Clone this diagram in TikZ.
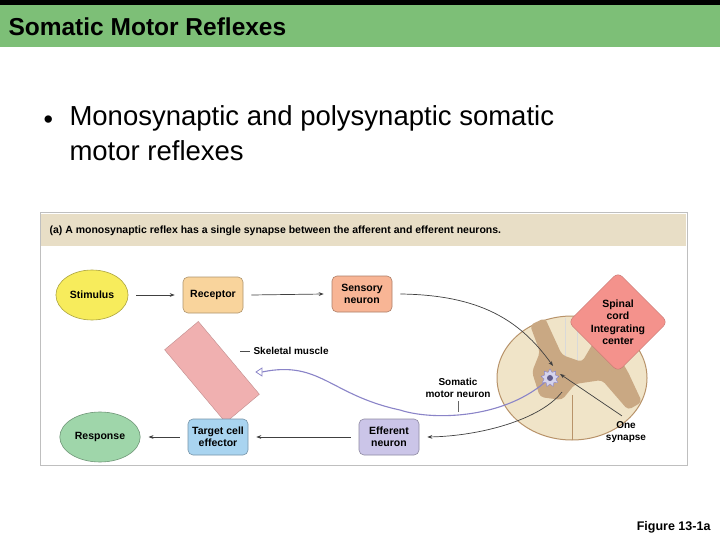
\documentclass[tikz,border=0pt]{standalone}
\usepackage{fontspec}
\setmainfont{Liberation Sans}
\usetikzlibrary{shapes.geometric,arrows.meta}
\definecolor{tgreen}{HTML}{7DBF77}
\definecolor{hdr}{HTML}{E8DEC6}
\definecolor{cord}{HTML}{F0E4C8}
\definecolor{cordedge}{HTML}{B8936A}
\definecolor{grey}{HTML}{C9A883}
\definecolor{cstim}{HTML}{F7EC5C}
\definecolor{crec}{HTML}{F9D49C}
\definecolor{csens}{HTML}{F8B595}
\definecolor{ceff}{HTML}{CBC5E8}
\definecolor{ctgt}{HTML}{A9D4F0}
\definecolor{cresp}{HTML}{9FD6AA}
\definecolor{cdia}{HTML}{F4928C}
\definecolor{cmus}{HTML}{F0B0B0}
\definecolor{cmot}{HTML}{8A84C8}
\begin{document}
\begin{tikzpicture}[x=1pt,y=-1pt,
 box/.style={draw=#1!70!black,fill=#1,rounded corners=5pt,minimum width=60pt,minimum height=36pt,align=center,font=\bfseries\fontsize{10.5}{12}\selectfont,line width=0.6pt},
 oval/.style={ellipse,draw=#1!70!black,fill=#1,minimum width=72pt,minimum height=50pt,font=\bfseries\fontsize{10.5}{12}\selectfont,line width=0.6pt},
 arr/.style={-{Stealth[length=5pt]},draw=black!75,line width=0.7pt},
 lbl/.style={font=\bfseries\fontsize{10}{12}\selectfont,align=center}]
\useasboundingbox (0,0) rectangle (720,540);
\fill[white] (0,0) rectangle (720,540);
\fill[black] (0,0) rectangle (720,5);
\fill[tgreen] (0,5) rectangle (720,47);
\node[anchor=west,font=\bfseries\fontsize{24.5}{27}\selectfont] (title) at (5,27) {Somatic Motor Reflexes};
\node[anchor=west,font=\fontsize{27}{34}\selectfont] (bul) at (40,122) {•};
\node[anchor=north west,align=left,font=\fontsize{27.5}{35}\selectfont] (txt) at (66,102) {Monosynaptic and polysynaptic somatic\\motor reflexes};
% panel
\draw[black!25,line width=1pt,fill=white] (40,213) rectangle (687,465);
\fill[hdr] (41,214) rectangle (686,246);
\node[anchor=west,font=\bfseries\fontsize{10.5}{12}\selectfont] (hd) at (46,231) {(a) A monosynaptic reflex has a single synapse between the afferent and efferent neurons.};
% spinal cord
\draw[cordedge,fill=cord,line width=1pt] (572,378) ellipse (75 and 62);
\draw[black!15,line width=0.8pt] (565,318) -- (565,365) (577,318)--(577,362);
\draw[cordedge,line width=1pt] (572,440) -- (572,395);
\fill[grey,rounded corners=4pt] (530,325) -- (545,318) -- (562,355) -- (582,362) -- (595,340) -- (612,345) -- (628,372) -- (642,402) -- (628,410) -- (602,380) -- (575,384) -- (562,400) -- (540,397) -- (532,372) -- (540,352) -- cycle;
\node[star,star points=9,draw=cmot,fill=cmot!35,minimum size=18pt,inner sep=0] (soma) at (550,378) {};
\fill[cmot!70!black] (soma) circle (3);
\node[diamond,draw=cdia!80!black,fill=cdia,rounded corners=6pt,minimum width=92pt,minimum height=92pt,inner sep=0,align=center,font=\bfseries\fontsize{10.5}{12.5}\selectfont] (center) at (618,322) {Spinal\\cord\\Integrating\\center};
\coordinate (syn) at (560,374);
\coordinate (syntop) at (553,366);
\coordinate (effout) at (562,392);
% muscle
\node[rotate=-50,draw=cmus!80!black,fill=cmus,minimum width=95pt,minimum height=44pt] (muscle) at (212,372) {};
\node[lbl,anchor=west] (skm) at (250,351) {Skeletal muscle};
\draw[black!70] (skm.west) -- ++(-10,0);
% boxes
\node[oval=cstim] (stim) at (92,295) {Stimulus};
\node[box=crec] (rec) at (213,295) {Receptor};
\node[box=csens] (sens) at (362,294) {Sensory\\neuron};
\node[box=ceff] (eff) at (389,437) {Efferent\\neuron};
\node[box=ctgt] (tgt) at (218,437) {Target cell\\effector};
\node[oval=cresp] (resp) at (100,437) {Response};
\draw[arr] ([xshift=8]stim.east) -- ([xshift=-8]rec.west);
\draw[arr] ([xshift=8]rec.east) -- ([xshift=-8]sens.west);
\draw[arr] ([xshift=8]sens.east) .. controls (480,295) and (520,320) .. (syntop);
\draw[arr] (effout) .. controls (540,420) and (480,436) .. ([xshift=8]eff.east);
\draw[arr] ([xshift=-8]eff.west) -- ([xshift=8]tgt.east);
\draw[arr] ([xshift=-8]tgt.west) -- ([xshift=8]resp.east);
% motor neuron
\draw[cmot,line width=1.1pt] (soma) .. controls (500,420) and (430,420) .. (400,410) .. controls (330,395) and (320,360) .. (262,372);
\draw[cmot,fill=white,line width=0.8pt] (262,368) -- (262,376) -- (256,372) -- cycle;
\node[lbl] (som) at (458,388) {Somatic\\motor neuron};
\draw[black!60] (458,401) -- (458,412);
\node[lbl] (one) at (626,432) {One\\synapse};
\draw[arr] ([shift={(-4,-2)}]one.north) -- (syn);
\node[anchor=east,font=\bfseries\fontsize{12.5}{14}\selectfont] (fig) at (714,527) {Figure 13-1a};
\end{tikzpicture}
\end{document}
